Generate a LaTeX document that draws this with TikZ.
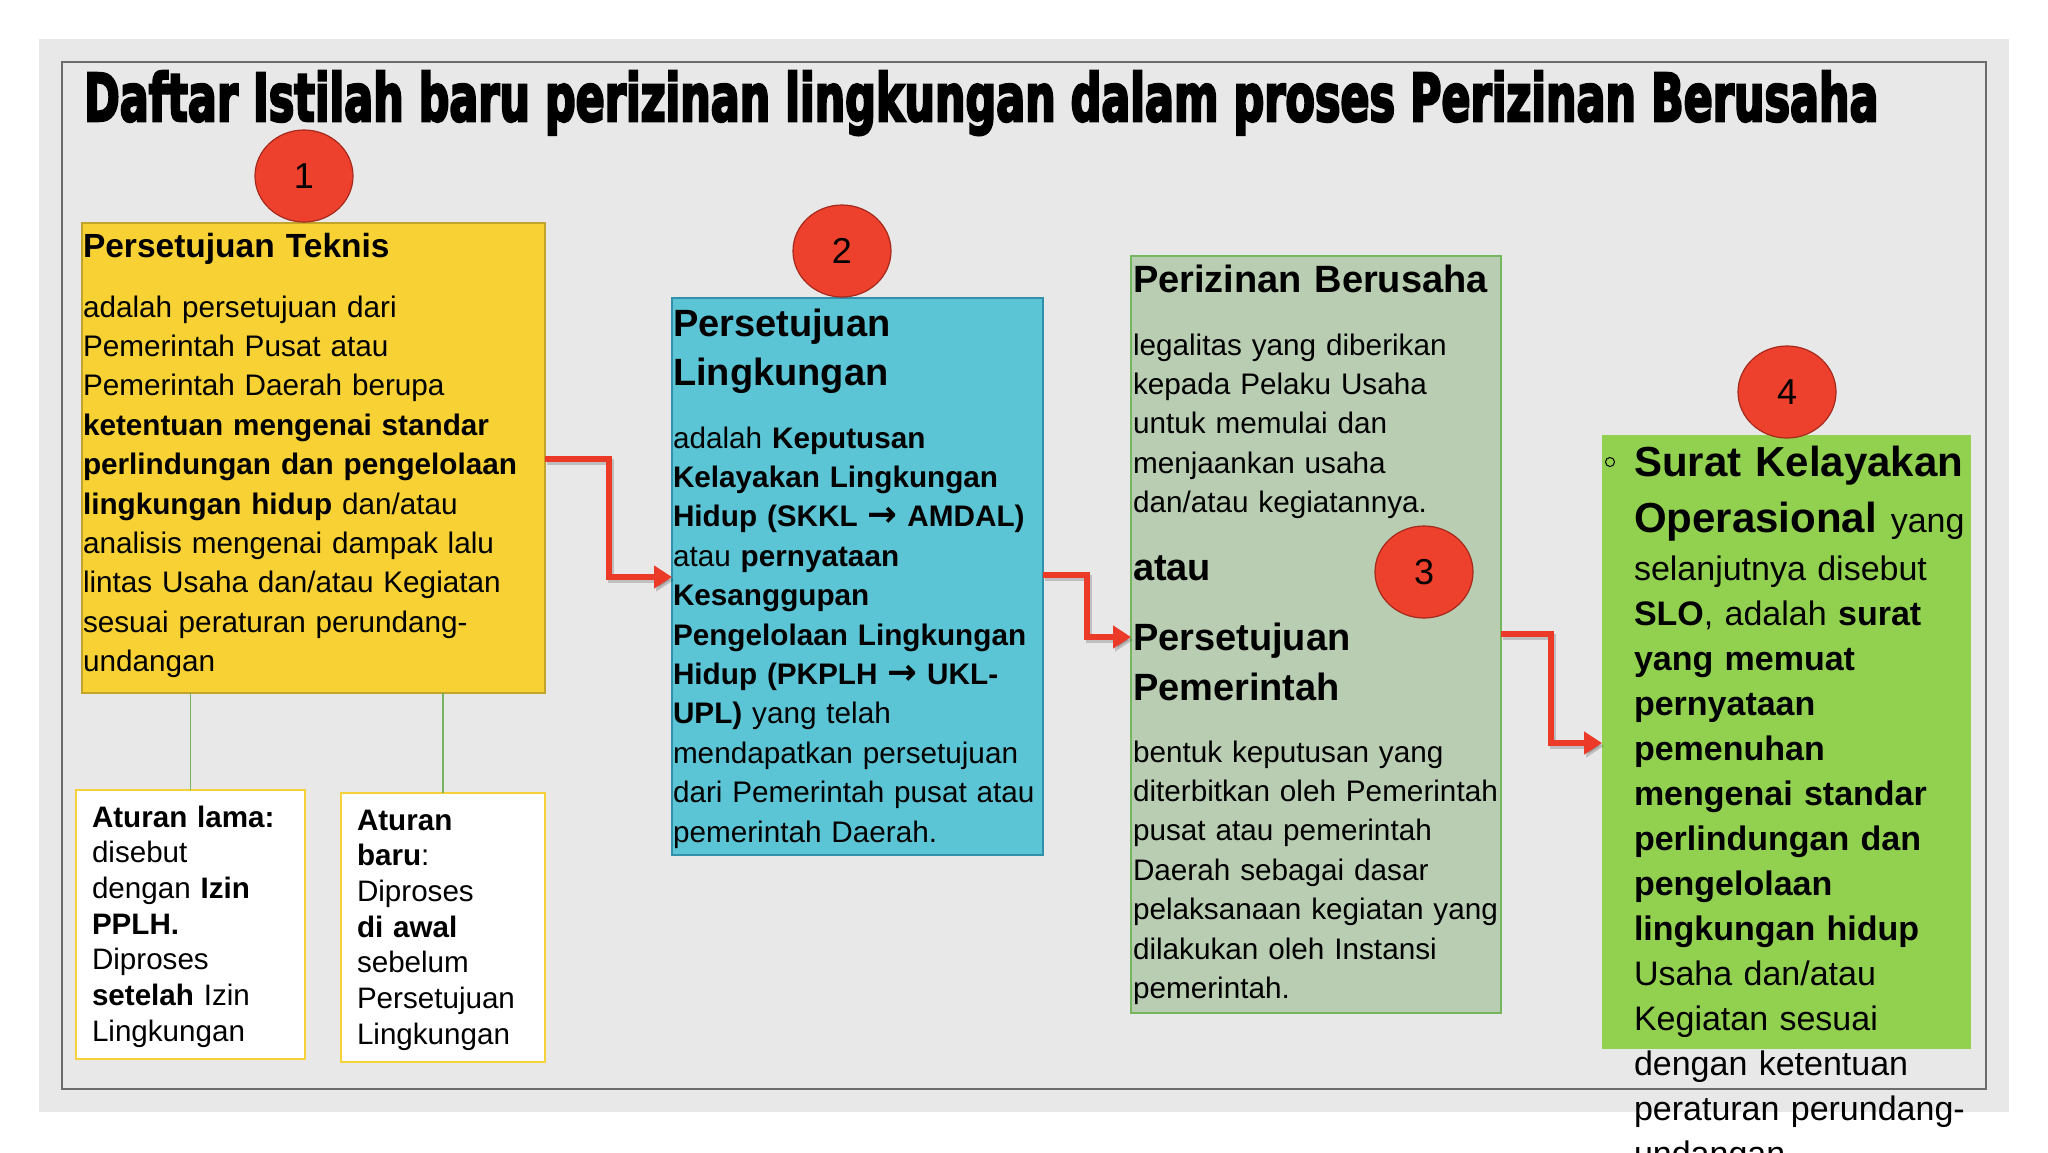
\documentclass[tikz,border=0pt]{standalone}
\usepackage{graphicx}
\usepackage{fontspec}
\setmainfont{Liberation Sans}
\newfontfamily\titlefont[FakeBold=4]{DejaVu Sans Condensed Bold}
\newfontfamily\arrowfont{DejaVu Sans}
\usetikzlibrary{shapes.geometric,arrows.meta}
\definecolor{cBg}{HTML}{E8E8E8}
\definecolor{cFrame}{HTML}{6C6C6C}
\definecolor{cYel}{HTML}{F8D134}
\definecolor{cYelD}{HTML}{C2A32C}
\definecolor{cBlu}{HTML}{5BC5D6}
\definecolor{cBluD}{HTML}{3290AA}
\definecolor{cSag}{HTML}{B9CDB2}
\definecolor{cSagD}{HTML}{74B75E}
\definecolor{cGrn}{HTML}{92D050}
\definecolor{cRed}{HTML}{EE412D}
\definecolor{cRedD}{HTML}{A5291C}
\definecolor{cArr}{HTML}{EC3A29}
\definecolor{cLink}{HTML}{78B25E}
\definecolor{cWYel}{HTML}{F5D23A}
\newcommand\bodyf{\fontsize{29.7pt}{39.4pt}\selectfont}
\newcommand\headf{\fontsize{38pt}{49pt}\selectfont\bfseries}
\newcommand\arr{{\arrowfont\scalebox{1.2}{→}}}
\begin{document}
\begin{tikzpicture}[x=1pt,y=-1pt,
  boxn/.style={rectangle, inner sep=0pt, outer sep=0pt, line width=1.3pt},
  tblock/.style={anchor=base west, inner sep=0pt, outer sep=0pt, align=left, text width=700pt},
  badge/.style={ellipse, inner sep=0pt, minimum width=98pt, minimum height=92pt, fill=cRed, draw=cRedD, line width=1.2pt, font=\fontsize{36pt}{40pt}\selectfont},
  redarr/.style={draw=cArr, line width=6pt, line join=miter, -{Triangle[length=18pt,width=22pt]}},
  shadarr/.style={draw=black, opacity=0.18, line width=6pt, line join=miter, -{Triangle[length=18pt,width=22pt]}, transform canvas={xshift=2pt,yshift=-3pt}},
  link/.style={draw=cLink, line width=1.5pt}]
\useasboundingbox[fill=white] (0,0) rectangle (2048,1152);
% background and frame
\fill[cBg] (39,39) rectangle (2009,1112);
\draw[draw=cFrame, line width=2pt, fill=cBg] (62,62) rectangle (1986,1089);
% title
\node[anchor=base west, inner sep=0pt] (title) at (84,121) {\resizebox{1794pt}{50pt}{\titlefont Daftar Istilah baru perizinan lingkungan dalam proses Perizinan Berusaha}};
% boxes
\node[boxn, fill=cYel, draw=cYelD, minimum width=463pt, minimum height=470pt] (yel) at (313.5,458) {};
\node[boxn, fill=cBlu, draw=cBluD, minimum width=371pt, minimum height=557pt] (blu) at (857.5,576.5) {};
\node[boxn, fill=cSag, draw=cSagD, minimum width=370pt, minimum height=757pt] (sag) at (1316,634.5) {};
\node[boxn, fill=cGrn, minimum width=369pt, minimum height=614pt] (grn) at (1786.5,742) {};
\node[boxn, fill=white, draw=cWYel, line width=2pt, minimum width=229pt, minimum height=269pt] (wA) at (190.5,924.5) {};
\node[boxn, fill=white, draw=cWYel, line width=2pt, minimum width=204pt, minimum height=269pt] (wB) at (443,927.5) {};
% links to white boxes
\draw[link] (yel.south -| wA.north) -- (wA.north);
\draw[link] (yel.south -| wB.north) -- (wB.north);
% red elbow arrows
\coordinate (k1) at (609,459); \coordinate (k2) at (609,577);
\coordinate (k3) at (1087,575); \coordinate (k4) at (1087,637);
\coordinate (k5) at (1551,634); \coordinate (k6) at (1551,743);
\draw[shadarr] (yel.east |- k1) -- (k1) -- (k2) -- (blu.west |- k2);
\draw[shadarr] (blu.east |- k3) -- (k3) -- (k4) -- (sag.west |- k4);
\draw[shadarr] (sag.east |- k5) -- (k5) -- (k6) -- (grn.west |- k6);
\draw[redarr] (yel.east |- k1) -- (k1) -- (k2) -- (blu.west |- k2);
\draw[redarr] (blu.east |- k3) -- (k3) -- (k4) -- (sag.west |- k4);
\draw[redarr] (sag.east |- k5) -- (k5) -- (k6) -- (grn.west |- k6);
% yellow box text
\node[tblock, font=\fontsize{33.5pt}{40pt}\selectfont\bfseries] (yT) at (83,257) {Persetujuan Teknis};
\node[tblock, font=\bodyf] (yB) at (83,317) {adalah persetujuan dari\\Pemerintah Pusat atau\\Pemerintah Daerah berupa\\\textbf{ketentuan mengenai standar}\\\textbf{perlindungan dan pengelolaan}\\\textbf{lingkungan hidup} dan/atau\\analisis mengenai dampak lalu\\lintas Usaha dan/atau Kegiatan\\sesuai peraturan perundang-\\undangan};
% blue box text
\node[tblock, font=\headf] (bT) at (673,336) {Persetujuan\\Lingkungan};
\node[tblock, font=\bodyf] (bB) at (673,448) {adalah \textbf{Keputusan}\\\textbf{Kelayakan Lingkungan}\\\textbf{Hidup (SKKL \arr{} AMDAL)}\\atau \textbf{pernyataan}\\\textbf{Kesanggupan}\\\textbf{Pengelolaan Lingkungan}\\\textbf{Hidup (PKPLH \arr{} UKL-}\\\textbf{UPL)} yang telah\\mendapatkan persetujuan\\dari Pemerintah pusat atau\\pemerintah Daerah.};
% sage box text
\node[tblock, font=\headf] (sT) at (1133,292) {Perizinan Berusaha};
\node[tblock, font=\bodyf] (sB) at (1133,355) {legalitas yang diberikan\\kepada Pelaku Usaha\\untuk memulai dan\\menjaankan usaha\\dan/atau kegiatannya.};
\node[tblock, font=\headf] (sA) at (1133,580) {atau};
\node[tblock, font=\fontsize{38pt}{50pt}\selectfont\bfseries] (sT2) at (1133,650) {Persetujuan\\Pemerintah};
\node[tblock, font=\bodyf] (sB2) at (1133,762) {bentuk keputusan yang\\diterbitkan oleh Pemerintah\\pusat atau pemerintah\\Daerah sebagai dasar\\pelaksanaan kegiatan yang\\dilakukan oleh Instansi\\pemerintah.};
% green box text
\node[circle, draw=black, line width=1pt, inner sep=0pt, minimum size=9pt] (bul) at (1610,462) {};
\node[tblock, font=\fontsize{42pt}{56pt}\selectfont\bfseries] (gT) at (1634,476) {Surat Kelayakan\\Operasional {\fontsize{34pt}{45pt}\selectfont\mdseries yang}};
\node[tblock, font=\fontsize{34pt}{45.05pt}\selectfont] (gB) at (1634,580) {selanjutnya disebut\\\textbf{SLO}, adalah \textbf{surat}\\\textbf{yang memuat}\\\textbf{pernyataan}\\\textbf{pemenuhan}\\\textbf{mengenai standar}\\\textbf{perlindungan dan}\\\textbf{pengelolaan}\\\textbf{lingkungan hidup}\\Usaha dan/atau\\Kegiatan sesuai\\dengan ketentuan\\peraturan perundang-\\undangan};
% white boxes text
\node[tblock, font=\fontsize{29.6pt}{35.7pt}\selectfont] (wAt) at (92,827) {\textbf{Aturan lama:}\\disebut\\dengan \textbf{Izin}\\\textbf{PPLH.}\\Diproses\\\textbf{setelah} Izin\\Lingkungan};
\node[tblock, font=\fontsize{29.6pt}{35.7pt}\selectfont] (wBt) at (357,830) {\textbf{Aturan}\\\textbf{baru}:\\Diproses\\\textbf{di awal}\\sebelum\\Persetujuan\\Lingkungan};
% number badges
\node[badge] (c1) at (304,176) {1};
\node[badge] (c2) at (842,251) {2};
\node[badge] (c3) at (1424,572) {3};
\node[badge] (c4) at (1787,392) {4};
\end{tikzpicture}
\end{document}
